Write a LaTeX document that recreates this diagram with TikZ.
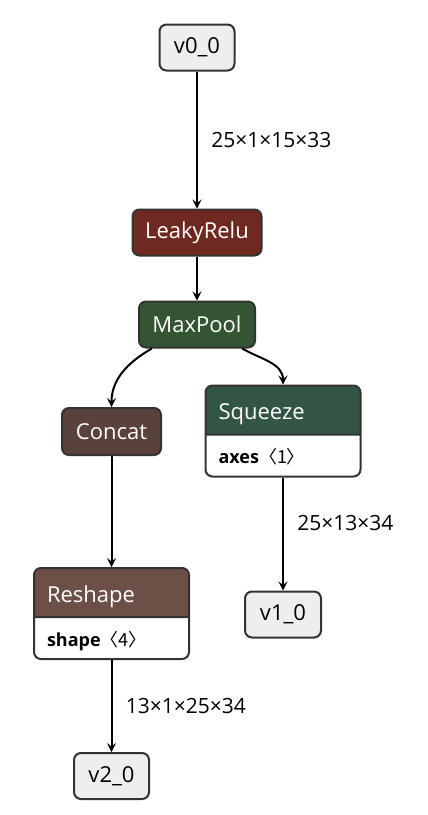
\documentclass[tikz,border=0pt]{standalone}
\usepackage{fontspec}
\setmainfont{Open Sans}
\newfontfamily\cjk{Noto Sans CJK SC}
\usetikzlibrary{shapes,positioning,arrows.meta}
\definecolor{tensorfill}{RGB}{238,238,238}
\definecolor{borderline}{RGB}{51,51,51}
\definecolor{activation}{RGB}{112,41,33}
\definecolor{pool}{RGB}{51,85,51}
\definecolor{transform}{RGB}{51,85,68}
\definecolor{tensorop}{RGB}{89,66,59}
\definecolor{shapeop}{RGB}{108,79,71}

\begin{document}
\begin{tikzpicture}
  [x=1pt, y=-1pt,
  tensor/.style={
    rectangle,
    draw=borderline,
    fill=tensorfill,
    rounded corners=7pt,
    line width=2pt,
    minimum width=75pt,
    minimum height=46pt,
    font=\fontsize{22}{26}\selectfont
    },
  op/.style={
    rectangle,
    draw=borderline,
    fill=#1,
    text=white,
    rounded corners=7pt,
    line width=2pt,
    minimum height=46pt,
    font=\fontsize{22}{26}\selectfont
    },
  relation/.style={
    rectangle split,
    rectangle split parts=2,
    rectangle split part fill={#1,white},
    draw=borderline,
    rounded corners=7pt,
    line width=2pt,
    inner ysep=0pt,
    inner xsep=13pt,
    text width=129pt,
    align=left,
    font=\fontsize{22}{26}\selectfont
    },
  flow/.style={-{Stealth[length=9pt,width=9pt,inset=3.5pt]}, line width=2pt},
  dims/.style={midway, right=10pt, font=\fontsize{21}{24}\selectfont}
  ]
  \useasboundingbox (0,0) rectangle (428,815);

  \node [tensor] (v0) at (197,47.5) {v0\_0};
  \node [op=activation, minimum width=129pt, below=137pt of v0] (leakyrelu) {LeakyRelu};
  \node [op=pool, minimum width=116pt, below=44pt of leakyrelu] (maxpool) {MaxPool};

  \node [op=tensorop, minimum width=99pt, minimum height=47pt] (concat) at (111.5,431.5) {Concat};
  \node [relation=transform] (squeeze) at (283,431)
    {
     \textcolor{white}{\rule[-14pt]{0pt}{47pt}Squeeze}%
     \nodepart{two} \rule[-12pt]{0pt}{40pt}\textbf{\fontsize{18}{21}\selectfont axes}{\cjk\fontsize{18}{21}\selectfont 〈1〉}
    };

  \node [relation=shapeop, below=111pt of concat] (reshape)
    {
     \textcolor{white}{\rule[-14pt]{0pt}{47pt}Reshape}%
     \nodepart{two} \rule[-12pt]{0pt}{40pt}\textbf{\fontsize{18}{21}\selectfont shape}{\cjk\fontsize{18}{21}\selectfont 〈4〉}
    };

  \node [tensor, minimum width=76pt, below=113pt of squeeze] (v1) {v1\_0};
  \node [tensor, below=92pt of reshape] (v2) {v2\_0};

  \draw[flow] (v0) -- (leakyrelu) node[dims] {25×1×15×33};
  \draw[flow] (leakyrelu) -- (maxpool);
  \draw[flow] (maxpool.-152) to[out=-150, in=90] (concat.north);
  \draw[flow] (maxpool.-28) to[out=-30, in=90] (squeeze.north);
  \draw[flow] (squeeze.south) -- (v1) node[dims, pos=0.4] {25×13×34};
  \draw[flow] (concat) -- (reshape);
  \draw[flow] (reshape.south) -- (v2) node[dims] {13×1×25×34};
\end{tikzpicture}
\end{document}
